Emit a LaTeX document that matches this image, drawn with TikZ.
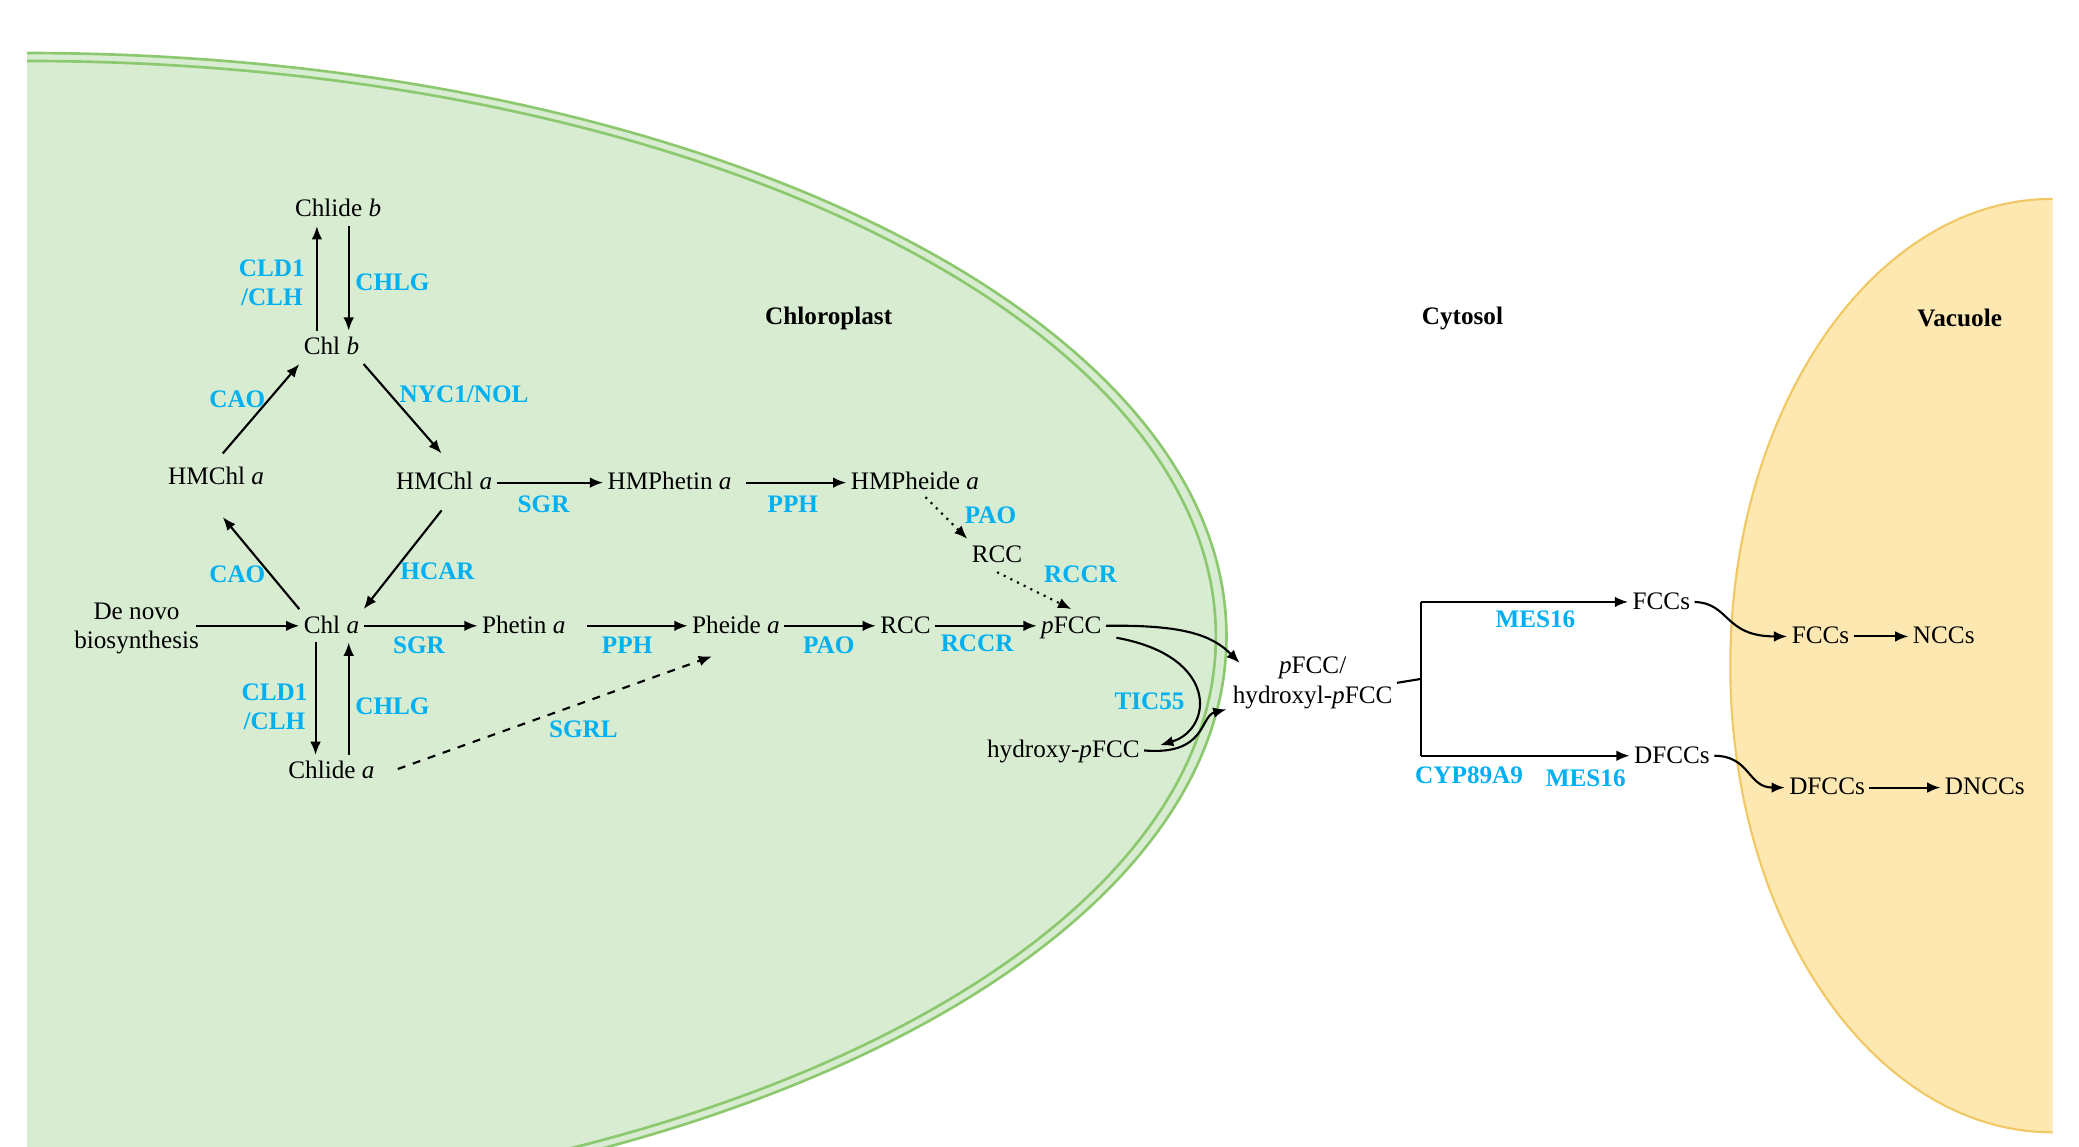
\documentclass[tikz,border=0pt]{standalone}
\usepackage{fontspec}
\setmainfont{Liberation Serif}
\usetikzlibrary{arrows.meta}
\definecolor{enz}{RGB}{0,176,240}
\definecolor{chl}{RGB}{216,236,210}
\definecolor{chlb}{RGB}{140,200,110}
\definecolor{vac}{RGB}{253,232,178}
\definecolor{vacb}{RGB}{240,200,100}
\begin{document}
\begin{tikzpicture}[x=0.5pt,y=-0.5pt,
  every node/.style={font=\fontsize{9.5}{11}\selectfont,inner sep=1.5pt},
  m/.style={text height=1.6ex,text depth=0.4ex},
  enzl/.style={text=enz,font=\bfseries\fontsize{9.5}{11}\selectfont,align=center},
  arr/.style={-{Latex[length=5pt,width=4pt]},line width=0.8pt},
  comp/.style={font=\bfseries\fontsize{9.5}{11}\selectfont}]
\useasboundingbox (0,0) rectangle (1568,865);
\begin{scope}
\clip (0,0) rectangle (1568,865);
\fill[chl] (20,480) ellipse [x radius=905, y radius=440];
\draw[chlb,line width=1pt] (20,480) ellipse [x radius=905, y radius=440];
\draw[chlb,line width=1pt] (20,480) ellipse [x radius=897, y radius=434];
\fill[white] (0,0) rectangle (20,865);
\end{scope}
\begin{scope}
\clip (0,0) rectangle (1548,865);
\fill[vac] (1548,502) ellipse [x radius=243, y radius=352];
\draw[vacb,line width=0.8pt] (1548,502) ellipse [x radius=243, y radius=352];
\end{scope}
\node[comp] (lc) at (625,240) {Chloroplast};
\node[comp] (lcy) at (1103,240) {Cytosol};
\node[comp] (lv) at (1478,240) {Vacuole};

\node[m] (chlideb) at (255,158) {Chlide \textit{b}};
\node[m] (chlb) at (250,262) {Chl \textit{b}};
\node[m] (hml) at (163,360) {HMChl \textit{a}};
\node[m] (hmr) at (335,364) {HMChl \textit{a}};
\node[m] (hmphet) at (505,364) {HMPhetin \textit{a}};
\node[m] (hmpheide) at (690,364) {HMPheide \textit{a}};
\node[align=center] (denovo) at (103,474) {De novo\\biosynthesis};
\node[m] (chla) at (250,472) {Chl \textit{a}};
\node[m] (phet) at (395,472) {Phetin \textit{a}};
\node[m] (pheide) at (555,472) {Pheide \textit{a}};
\node[m] (rcc) at (683,472) {RCC};
\node[m] (pfcc) at (808,472) {\textit{p}FCC};
\node[m] (rccu) at (752,419) {RCC};
\node[m] (chlidea) at (250,582) {Chlide \textit{a}};
\node[m] (hyd) at (802,566) {hydroxy-\textit{p}FCC};
\node[align=center] (mix) at (990,515) {\textit{p}FCC/\\hydroxyl-\textit{p}FCC};
\node[m] (fcc1) at (1253,454) {FCCs};
\node[m] (dfcc1) at (1261,570) {DFCCs};
\node[m] (fcc2) at (1373,480) {FCCs};
\node[m] (ncc) at (1466,480) {NCCs};
\node[m] (dfcc2) at (1378,594) {DFCCs};
\node[m] (dncc) at (1497,594) {DNCCs};

\draw[arr] (chlb.north -| 239,0) -- (chlideb.south -| 239,0);
\draw[arr] (chlideb.south -| 263,0) -- (chlb.north -| 263,0);
\node[enzl] (e1) at (205,213) {CLD1\\/CLH};
\node[enzl] (e2) at (296,213) {CHLG};
\draw[arr] (168,342) -- (chlb.south west);
\node[enzl] (e3) at (179,301) {CAO};
\draw[arr] (chlb.south east) -- (333,342);
\node[enzl] (e4) at (350,297) {NYC1/NOL};
\draw[arr] (chla.north west) -- (168,390);
\node[enzl] (e5) at (179,433) {CAO};
\draw[arr] (333,385) -- (chla.north east);
\node[enzl] (e6) at (330,431) {HCAR};
\draw[arr] (hmr.east) -- (hmphet.west);
\node[enzl] (e7) at (410,380) {SGR};
\draw[arr] (563,364) -- (hmpheide.west);
\node[enzl] (e8) at (598,380) {PPH};
\draw[arr,dotted] (698,375) -- (rccu.north west);
\node[enzl] (e9) at (747,389) {PAO};
\draw[arr,dotted] (rccu.south) -- (pfcc.north);
\node[enzl] (e10) at (815,433) {RCCR};
\draw[arr] (148,472) -- (chla.west);
\draw[arr] (chla.east) -- (phet.west);
\node[enzl] (e11) at (316,487) {SGR};
\draw[arr] (443,472) -- (pheide.west);
\node[enzl] (e12) at (473,487) {PPH};
\draw[arr] (pheide.east) -- (rcc.west);
\node[enzl] (e13) at (625,487) {PAO};
\draw[arr] (rcc.east) -- (pfcc.west);
\node[enzl] (e14) at (737,485) {RCCR};
\draw[arr] (chla.south -| 238,0) -- (chlidea.north -| 238,0);
\draw[arr] (chlidea.north -| 263,0) -- (chla.south -| 263,0);
\node[enzl] (e15) at (207,533) {CLD1\\/CLH};
\node[enzl] (e16) at (296,533) {CHLG};
\draw[arr,dashed] (300,580) -- (537,495);
\node[enzl] (e17) at (440,550) {SGRL};
\draw[arr] (pfcc.east) .. controls (895,471) and (915,480) .. (935,500);
\draw[arr] (842,481) .. controls (920,495) and (915,550) .. (875,562);
\node[enzl] (e18) at (867,529) {TIC55};
\draw[arr] (hyd.east) .. controls (910,570) and (905,540) .. (925,535);
\draw[line width=0.8pt] (mix.east) -- (1072,512) coordinate (br);
\draw[line width=0.8pt] (1072,454) -- (1072,570);
\draw[arr] (1072,454) -- (fcc1.west);
\draw[arr] (1072,570) -- (dfcc1.west);
\node[enzl] (e19) at (1158,467) {MES16};
\node[enzl] (e20) at (1108,585) {CYP89A9};
\node[enzl] (e21) at (1196,587) {MES16};
\draw[arr] (fcc1.east) .. controls (1305,455) and (1300,480) .. (fcc2.west);
\draw[arr] (fcc2.east) -- (ncc.west);
\draw[arr] (dfcc1.east) .. controls (1320,570) and (1318,594) .. (dfcc2.west);
\draw[arr] (dfcc2.east) -- (dncc.west);
\end{tikzpicture}
\end{document}
